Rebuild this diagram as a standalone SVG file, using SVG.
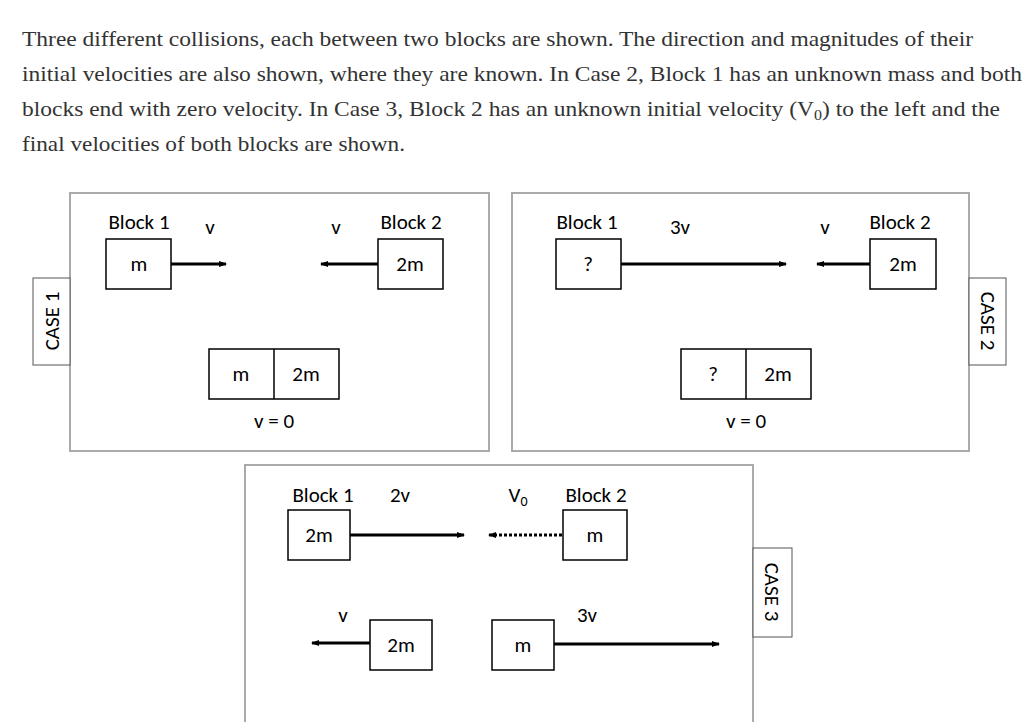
<svg xmlns="http://www.w3.org/2000/svg" width="1031" height="722" viewBox="0 0 1031 722">
<defs>
<marker id="ah" markerWidth="8" markerHeight="8" refX="7" refY="4" orient="auto" markerUnits="userSpaceOnUse"><path d="M0,1 L8,4 L0,7 Z" fill="#000"/></marker>
</defs>
<style>
.p{font-family:"Liberation Serif",serif;font-size:22px;fill:#333}
.t{font-family:Carlito,Calibri,"Open Sans","Liberation Sans",sans-serif;font-size:21px;fill:#000;text-anchor:middle}
.f{fill:#fff;stroke:#aaa;stroke-width:2}
.b{fill:#fff;stroke:#000;stroke-width:1.5}
.l{fill:#fff;stroke:#555;stroke-width:1}
.a{stroke:#000;stroke-width:3;fill:none;marker-end:url(#ah)}
.d{stroke:#000;stroke-width:3;fill:none;stroke-dasharray:3 2;marker-end:url(#ah)}
</style>
<rect width="1031" height="722" fill="#fff"/>
<g id="intro">
<text class="p" x="22" y="46" textLength="951" lengthAdjust="spacingAndGlyphs">Three different collisions, each between two blocks are shown.  The direction and magnitudes of their</text>
<text class="p" x="22" y="81" textLength="1000" lengthAdjust="spacingAndGlyphs">initial velocities are also shown, where they are known.  In Case 2, Block 1 has an unknown mass and both</text>
<text class="p" x="22" y="116" textLength="978" lengthAdjust="spacingAndGlyphs">blocks end with zero velocity.  In Case 3, Block 2 has an unknown initial velocity (V<tspan font-size="15" dy="4">0</tspan><tspan dy="-4">) to the left and the</tspan></text>
<text class="p" x="22" y="151" textLength="383" lengthAdjust="spacingAndGlyphs">final velocities of both blocks are shown.</text>
</g>
<g id="case1">
<rect class="f" x="70" y="193" width="419" height="258"/>
<rect class="l" x="33" y="278" width="37" height="87"/>
<text class="t" transform="translate(59,321) rotate(-90)">CASE 1</text>
<text class="t" x="139" y="229">Block 1</text>
<text class="t" x="411" y="229">Block 2</text>
<text class="t" x="210" y="234">v</text>
<text class="t" x="336" y="234">v</text>
<rect class="b" x="106" y="239" width="65" height="50"/><text class="t" x="139" y="271">m</text>
<rect class="b" x="378" y="239" width="65" height="50"/><text class="t" x="410" y="271">2m</text>
<rect class="b" x="209" y="349" width="130" height="50"/><line x1="274" y1="349" x2="274" y2="399" stroke="#000" stroke-width="1.5"/>
<text class="t" x="241" y="381">m</text><text class="t" x="306" y="381">2m</text>
<text class="t" x="274" y="428">v = 0</text>
</g>
<g id="case2">
<rect class="f" x="512" y="193" width="457" height="258"/>
<rect class="l" x="969" y="278" width="37" height="87"/>
<text class="t" transform="translate(981,321) rotate(90)">CASE 2</text>
<text class="t" x="587" y="229">Block 1</text>
<text class="t" x="900" y="229">Block 2</text>
<text class="t" x="680" y="234">3v</text>
<text class="t" x="825" y="234">v</text>
<rect class="b" x="556" y="239" width="65" height="50"/><text class="t" x="588" y="271">?</text>
<rect class="b" x="870" y="239" width="66" height="50"/><text class="t" x="903" y="271">2m</text>
<rect class="b" x="681" y="349" width="130" height="50"/><line x1="746" y1="349" x2="746" y2="399" stroke="#000" stroke-width="1.5"/>
<text class="t" x="713" y="381">?</text><text class="t" x="778" y="381">2m</text>
<text class="t" x="746" y="428">v = 0</text>
</g>
<g id="case3">
<rect class="f" x="245" y="465" width="508" height="270"/>
<rect class="l" x="753" y="548" width="39" height="89"/>
<text class="t" transform="translate(765,592) rotate(90)">CASE 3</text>
<text class="t" x="323" y="502">Block 1</text>
<text class="t" x="400" y="502">2v</text>
<text class="t" x="518" y="502">V<tspan font-size="14" dy="4">0</tspan></text>
<text class="t" x="596" y="502">Block 2</text>
<rect class="b" x="288" y="510" width="62" height="50"/><text class="t" x="319" y="542">2m</text>
<rect class="b" x="563" y="510" width="64" height="50"/><text class="t" x="595" y="542">m</text>
<text class="t" x="343" y="622">v</text>
<text class="t" x="587" y="622">3v</text>
<rect class="b" x="370" y="620" width="62" height="50"/><text class="t" x="401" y="652">2m</text>
<rect class="b" x="492" y="620" width="62" height="50"/><text class="t" x="523" y="652">m</text>
</g>
<g id="connectors">
<line class="a" x1="171" y1="264" x2="226" y2="264"/>
<line class="a" x1="378" y1="264" x2="321" y2="264"/>
<line class="a" x1="621" y1="264" x2="786" y2="264"/>
<line class="a" x1="870" y1="264" x2="817" y2="264"/>
<line class="a" x1="350" y1="535" x2="464" y2="535"/>
<line class="d" x1="562" y1="535" x2="489" y2="535"/>
<line class="a" x1="370" y1="643" x2="312" y2="643"/>
<line class="a" x1="554" y1="644" x2="719" y2="644"/>
</g>
</svg>
